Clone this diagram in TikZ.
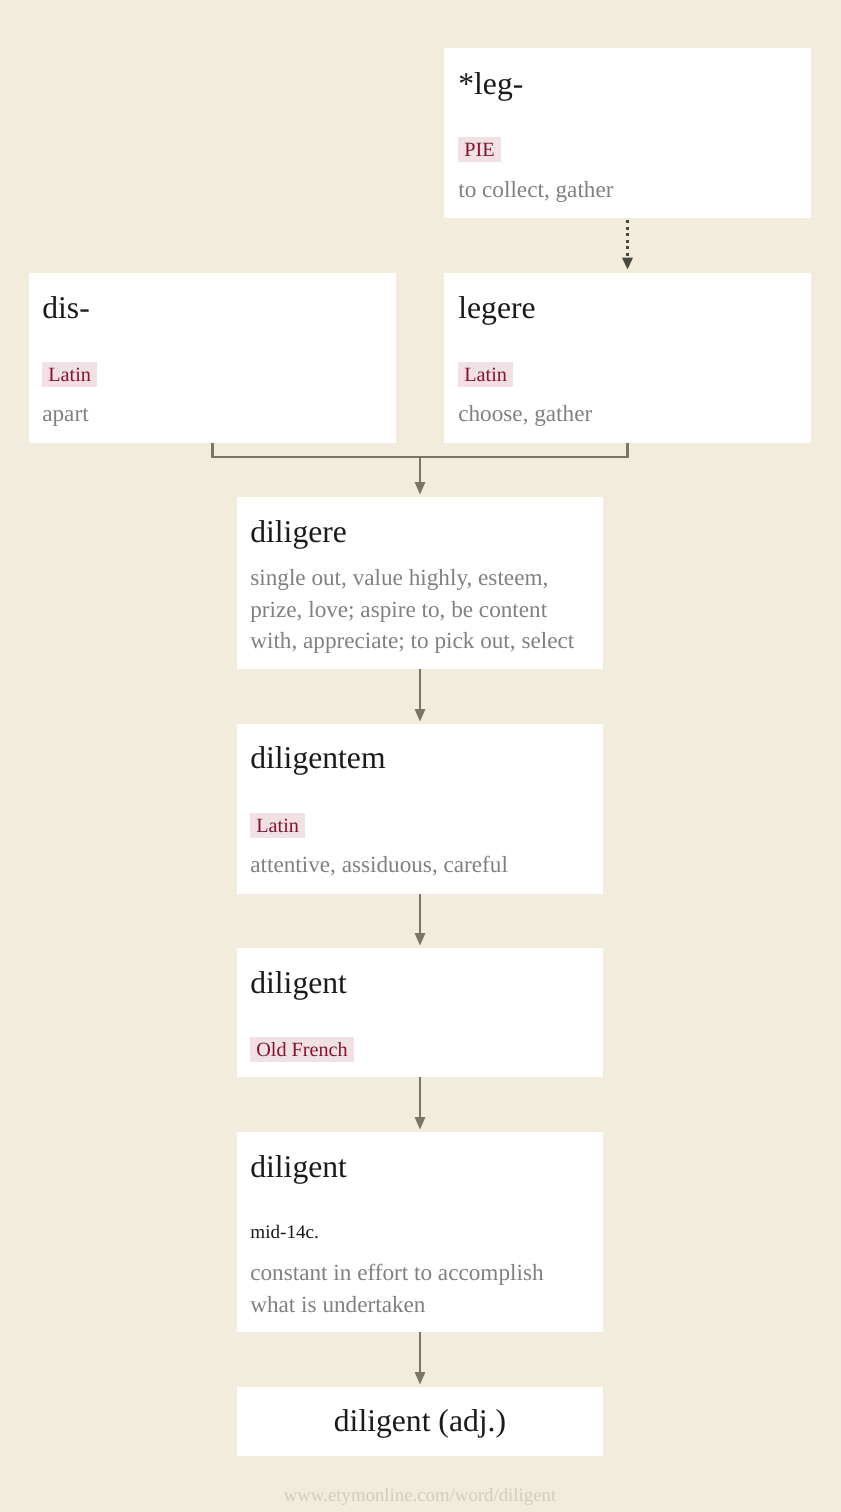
\documentclass[tikz,border=0pt]{standalone}
\usepackage{fontspec}
\setmainfont{Liberation Serif}
\usetikzlibrary{arrows.meta}

\definecolor{paper}{HTML}{F2ECDC}
\definecolor{tagbg}{HTML}{F1E1E4}
\definecolor{tagred}{HTML}{8A1030}
\definecolor{descgray}{HTML}{808080}
\definecolor{wordblack}{HTML}{1A1A1A}
\definecolor{linkgray}{HTML}{7A7565}
\definecolor{dotgray}{HTML}{4A493E}
\definecolor{urlgray}{HTML}{D2CCBC}

\tikzset{
	box/.style 2 args={fill=white, inner sep=0pt, minimum width=#1*0.02cm, minimum height=#2*0.02cm},
	word/.style={anchor=base west, inner sep=0pt, text=wordblack, font=\fontsize{18}{21}\selectfont},
	desc/.style={anchor=base west, inner sep=0pt, text=descgray, font=\fontsize{13.2}{17.6}\selectfont},
	lang/.style={anchor=base west, fill=tagbg, text=tagred, inner xsep=0.12cm, inner ysep=0pt,
		text height=0.38cm, text depth=0.12cm, font=\fontsize{11.5}{13}\selectfont},
	date/.style={anchor=base west, inner sep=0pt, text=wordblack, font=\fontsize{10.9}{12}\selectfont},
	link/.style={draw=linkgray, line width=0.05cm, -{Triangle[length=0.25cm,width=0.2cm]}},
	dotlink/.style={draw=dotgray, line width=0.06cm, dash pattern=on 0.06cm off 0.07cm,
		-{Triangle[length=0.24cm,width=0.2cm]}}
}

\begin{document}
\begin{tikzpicture}[x=0.02cm,y=-0.02cm]
	\useasboundingbox (0,0) rectangle (840,1512);
	\fill[paper] (-10,-10) rectangle (850,1522);
	
	% boxes
	\node[box={367}{170}] (leg) at (627.5,133) {};
	\node[box={367}{170}] (dis) at (212.5,358) {};
	\node[box={367}{170}] (legere) at (627.5,358) {};
	\node[box={366}{172}] (diligere) at (420,583) {};
	\node[box={366}{170}] (diligentem) at (420,809) {};
	\node[box={366}{129}] (oldfr) at (420,1012.5) {};
	\node[box={366}{200}] (english) at (420,1232) {};
	\node[box={366}{69}] (final) at (420,1421.5) {};
	
	% *leg-
	\node[word] (legword) at (458,94) {*leg-};
	\node[lang] (legtag) at (458,156) {PIE};
	\node[desc] (legdesc) at (458,197) {to collect, gather};
	
	% dis-
	\node[word] (disword) at (42,318) {dis-};
	\node[lang] (distag) at (42,381) {Latin};
	\node[desc] (disdesc) at (42,421) {apart};
	
	% legere
	\node[word] (legereword) at (458,318) {legere};
	\node[lang] (legeretag) at (458,381) {Latin};
	\node[desc] (legeredesc) at (458,421) {choose, gather};
	
	% diligere
	\node[word] (diligereword) at (250,542) {diligere};
	\node[desc] (diligeredesca) at (250,585) {single out, value highly, esteem,};
	\node[desc] (diligeredescb) at (250,617) {prize, love; aspire to, be content};
	\node[desc] (diligeredescc) at (250,648) {with, appreciate; to pick out, select};
	
	% diligentem
	\node[word] (diligentemword) at (250,768) {diligentem};
	\node[lang] (diligentemtag) at (250,832) {Latin};
	\node[desc] (diligentemdesc) at (250,872) {attentive, assiduous, careful};
	
	% diligent (Old French)
	\node[word] (oldfrword) at (250,993) {diligent};
	\node[lang] (oldfrtag) at (250,1056) {Old French};
	
	% diligent
	\node[word] (englishword) at (250,1177) {diligent};
	\node[date] (englishdate) at (250,1238) {mid-14c.};
	\node[desc] (englishdesca) at (250,1280) {constant in effort to accomplish};
	\node[desc] (englishdescb) at (250,1312) {what is undertaken};
	
	% diligent (adj.)
	\node[word, anchor=base] (finalword) at (420,1431) {diligent (adj.)};
	
	\node[anchor=base, inner sep=0pt, text=urlgray, font=\fontsize{10.7}{12}\selectfont] (url) at (420,1501) {www.etymonline.com/word/diligent};
	
	% links
	\draw[dotlink, shorten <=0.04cm, shorten >=0.06cm] (leg.south) -- (legere.north);
	\coordinate (merge) at (420,457);
	\draw[draw=linkgray, line width=0.05cm] (dis.south) |- (merge) -| (legere.south);
	\draw[link, shorten >=0.04cm] (merge) -- (diligere.north);
	\draw[link, shorten >=0.04cm] (diligere.south) -- (diligentem.north);
	\draw[link, shorten >=0.04cm] (diligentem.south) -- (oldfr.north);
	\draw[link, shorten >=0.04cm] (oldfr.south) -- (english.north);
	\draw[link, shorten >=0.04cm] (english.south) -- (final.north);
\end{tikzpicture}
\end{document}
